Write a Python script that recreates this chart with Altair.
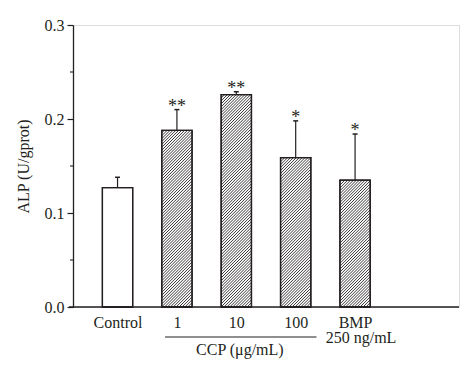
import altair as alt
import pandas as pd

# ---- data ----
groups = ["Control", "1", "10", "100", "BMP"]
means = [0.127, 0.188, 0.226, 0.159, 0.135]
errors = [0.011, 0.022, 0.003, 0.039, 0.049]
stars = ["", "**", "**", "*", "*"]
hatched = [False, True, True, True, True]
y_ticks = [0.0, 0.1, 0.2, 0.3]
y_minor = [0.05, 0.15, 0.25]
ccp_label = "CCP (μg/mL)"
bmp_sub = "250 ng/mL"

# ---- layout ----
W, H = 386, 282
X0, X1 = 0.25, 6.75
Y0, Y1 = 0.0, 0.3
BAR_W = 0.51
px_x = (X1 - X0) / W
px_y = (Y1 - Y0) / H
INK = "#231f20"
FONT = "Liberation Serif"
FS = 16

pos = list(range(1, len(groups) + 1))
df = pd.DataFrame({"pos": pos, "group": groups, "mean": means, "err": errors, "star": stars})
df["left"] = df["pos"] - BAR_W / 2
df["right"] = df["pos"] + BAR_W / 2
df["top"] = df["mean"] + df["err"]
df["capl"] = df["pos"] - 2.5 * px_x
df["capr"] = df["pos"] + 2.5 * px_x
df["zero"] = 0.0

# hatch segments (45 degrees in pixel space), clipped to each hatched bar
spacing = 2.9
segs = []
for i, row in df.iterrows():
    if not hatched[i]:
        continue
    w = BAR_W / px_x
    h = row["mean"] / px_y
    c = -w + spacing / 2
    while c < h:
        u0 = max(0.0, -c)
        u1 = min(w, h - c)
        if u1 > u0:
            segs.append(dict(x=row["left"] + u0 * px_x, x2=row["left"] + u1 * px_x,
                             y=(u0 + c) * px_y, y2=(u1 + c) * px_y))
        c += spacing
hatch_df = pd.DataFrame(segs)

xs = alt.Scale(domain=[X0, X1], nice=False, zero=False)
ys = alt.Scale(domain=[Y0, Y1], nice=False, zero=False)

label_expr = "[" + ",".join("'" + g + "'" for g in groups) + "][datum.value-1]"

base = alt.Chart(df)

bars = base.mark_rect(fill="white", stroke=INK, strokeWidth=1.3).encode(
    x=alt.X("left:Q", scale=xs,
            axis=alt.Axis(values=pos, labelExpr=label_expr, domain=False, ticks=False,
                          grid=False, labelPadding=7, labelFont=FONT, labelFontSize=FS,
                          labelColor=INK, title=None)),
    x2="right:Q",
    y=alt.Y("mean:Q", scale=ys,
            axis=alt.Axis(values=y_ticks, format=".1f", tickSize=6, tickColor=INK,
                          tickWidth=1.2, domainColor=INK, domainWidth=1.3, grid=False,
                          labelFont=FONT, labelFontSize=FS, labelColor=INK, labelPadding=3,
                          title="ALP (U/gprot)", titleFont=FONT, titleFontSize=FS,
                          titleFontWeight="normal", titleColor=INK, titleX=-50, titleY=141,
                          titleAlign="center", titleBaseline="middle")),
    y2="zero:Q",
)

hatch = alt.Chart(hatch_df).mark_rule(color=INK, strokeWidth=0.9).encode(
    x=alt.X("x:Q", scale=xs), x2="x2:Q",
    y=alt.Y("y:Q", scale=ys), y2="y2:Q",
)

outline = base.mark_rect(fill=None, fillOpacity=0, stroke=INK, strokeWidth=1.3).encode(
    x=alt.X("left:Q", scale=xs), x2="right:Q",
    y=alt.Y("mean:Q", scale=ys), y2="zero:Q",
)

err_line = base.mark_rule(color=INK, strokeWidth=1.2).encode(
    x=alt.X("pos:Q", scale=xs),
    y=alt.Y("mean:Q", scale=ys), y2="top:Q",
)
err_cap = base.mark_rule(color=INK, strokeWidth=1.5).encode(
    x=alt.X("capl:Q", scale=xs), x2="capr:Q",
    y=alt.Y("top:Q", scale=ys),
)

star_txt = base.mark_text(font=FONT, fontSize=18, color=INK, baseline="alphabetic", dy=2).encode(
    x=alt.X("pos:Q", scale=xs),
    y=alt.Y("top:Q", scale=ys),
    text="star:N",
)

baseline = alt.Chart(pd.DataFrame({"y": [0.0]})).mark_rule(color=INK, strokeWidth=1.3).encode(
    y=alt.Y("y:Q", scale=ys), x=alt.value(-4), x2=alt.value(W),
)

minor = alt.Chart(pd.DataFrame({"y": y_minor})).mark_rule(color=INK, strokeWidth=1.1).encode(
    y=alt.Y("y:Q", scale=ys), x=alt.value(-3), x2=alt.value(0),
)

ccp_df = pd.DataFrame({"x": [1.8], "x2": [4.35], "xc": [3.06], "label": [ccp_label]})
ccp_line = alt.Chart(ccp_df).mark_rule(color=INK, strokeWidth=1.2).encode(
    x=alt.X("x:Q", scale=xs), x2="x2:Q", y=alt.value(312),
)
ccp_text = alt.Chart(ccp_df).mark_text(font=FONT, fontSize=FS, color=INK, baseline="middle").encode(
    x=alt.X("xc:Q", scale=xs), y=alt.value(325), text="label:N",
)
bmp_df = pd.DataFrame({"x": [5.1], "label": [bmp_sub]})
bmp_text = alt.Chart(bmp_df).mark_text(font=FONT, fontSize=FS, color=INK, baseline="middle").encode(
    x=alt.X("x:Q", scale=xs), y=alt.value(313), text="label:N",
)

chart = alt.layer(
    bars, hatch, outline, err_line, err_cap, star_txt, baseline, minor,
    ccp_line, ccp_text, bmp_text,
).properties(
    width=W, height=H,
    autosize=alt.AutoSizeParams(type="none"),
    padding={"left": 65, "top": 17, "right": 7, "bottom": 61},
).configure_view(stroke=None).configure(background="white")

chart.save("out.html", embed_options={"renderer": "svg", "actions": False})
